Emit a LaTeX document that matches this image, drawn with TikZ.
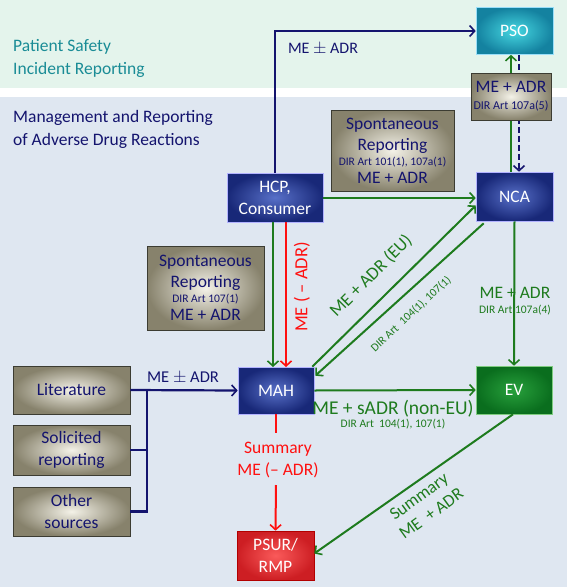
\documentclass[tikz,border=0pt]{standalone}
\usepackage{fontspec}
\setmainfont{Carlito}
\usetikzlibrary{arrows.meta,calc}
\definecolor{navy}{HTML}{14146E}
\definecolor{dgreen}{HTML}{1E7B1E}
\definecolor{redl}{HTML}{FF1010}
\definecolor{tealtxt}{HTML}{1A8C96}
\definecolor{topbg}{HTML}{E4F4EC}
\definecolor{botbg}{HTML}{DFE7F1}
\tikzset{
  base/.style={rectangle, align=center, inner sep=1pt, font=\fontsize{17.5}{22}\selectfont},
  beigebox/.style={base, draw={rgb,255:red,60;green,60;blue,50}, line width=0.8pt, inner color={rgb,255:red,244;green,242;blue,232}, outer color={rgb,255:red,135;green,130;blue,108}, text=navy},
  bluebox/.style={base, draw=blue!30!white, line width=0.6pt, inner color={rgb,255:red,88;green,112;blue,200}, outer color={rgb,255:red,24;green,40;blue,120}, text=white},
  greenbox/.style={base, draw=green!60!black!50, line width=0.6pt, inner color={rgb,255:red,40;green,160;blue,60}, outer color={rgb,255:red,10;green,110;blue,30}, text=white},
  redbox/.style={base, draw=red!70!black, line width=0.6pt, inner color={rgb,255:red,250;green,90;blue,90}, outer color={rgb,255:red,205;green,30;blue,35}, text=white},
  tealbox/.style={base, draw=cyan!40!white, line width=0.6pt, inner color={rgb,255:red,70;green,215;blue,225}, outer color={rgb,255:red,20;green,130;blue,160}, text=white},
  tip/.style={-{Straight Barb[length=5pt,width=11pt,line width=1.6pt]}},
  nline/.style={navy, line width=2.2pt},
  gline/.style={dgreen, line width=2pt},
  rline/.style={redl, line width=2pt},
  lbl/.style={font=\fontsize{17.5}{22}\selectfont, inner sep=0pt},
  small/.style={font=\fontsize{11.5}{13}\selectfont, inner sep=0pt},
  head/.style={font=\fontsize{17.5}{23}\selectfont, align=left, anchor=west, inner sep=0pt},
}
\newcommand{\smalltxt}[1]{{\fontsize{11.5}{13}\selectfont #1}}
\begin{document}
\begin{tikzpicture}[x=1pt,y=-1pt]
\useasboundingbox (0,0) rectangle (567,587);
\fill[topbg] (0,0) rectangle (567,88);
\fill[white] (0,88) rectangle (567,97);
\fill[botbg] (0,97) rectangle (567,587);

\node[head, text=tealtxt] (hd1) at (13,58.5) {Patient Safety\\Incident Reporting};
\node[head, text=navy] (hd2) at (13,129) {Management and Reporting\\of Adverse Drug Reactions};

% main nodes
\node[tealbox, minimum width=77pt, minimum height=47pt] (PSO) at (514.5,31) {PSO};
\node[bluebox, minimum width=77pt, minimum height=49pt] (NCA) at (514.5,196.5) {NCA};
\node[bluebox, minimum width=96pt, minimum height=49pt] (HCP) at (275,197.5) {HCP,\\Consumer};
\node[bluebox, minimum width=76pt, minimum height=47pt] (MAH) at (276,390.5) {MAH};
\node[greenbox, minimum width=76pt, minimum height=48pt] (EV) at (514,390) {EV};
\node[redbox, minimum width=77pt, minimum height=49pt] (PSUR) at (275.5,555.5) {PSUR/\\RMP};
\node[beigebox, minimum width=117pt, minimum height=48pt] (LIT) at (71.5,390) {Literature};
\node[beigebox, minimum width=117pt, minimum height=50pt] (SOL) at (71.5,450) {Solicited\\reporting};
\node[beigebox, minimum width=117pt, minimum height=49pt] (OTH) at (71.5,511.5) {Other\\sources};

% HCP -> PSO
\draw[nline, tip] (HCP.north) |- (PSO.west);
\node[lbl, text=navy, font=\fontsize{16}{19}\selectfont] (l1) at (323,49) {ME $\pm$ ADR};

% PSO <-> NCA
\draw[gline, tip] ([xshift=-3.5pt]NCA.north) -- ([xshift=-3.5pt]PSO.south);
\draw[nline, dashed, dash pattern=on 6pt off 3pt, tip] ([xshift=4.5pt]PSO.south) -- ([xshift=4.5pt]NCA.north);
\node[beigebox, minimum width=80pt, minimum height=47pt, inner sep=0pt] (B1) at (511,96.5) {ME + ADR\\[-5pt]{\fontsize{12}{13}\selectfont DIR Art 107a(5)}};

% HCP -> NCA
\draw[gline, tip] (HCP.east |- 0,198) -- (NCA.west |- 0,198);
\node[beigebox, minimum width=123pt, minimum height=81pt, font=\fontsize{17.5}{21}\selectfont] (B2) at (392.5,150.5) {Spontaneous\\Reporting\\[-6pt]\smalltxt{DIR Art 101(1), 107a(1)}\\[-3pt]ME + ADR};

% HCP -> MAH
\draw[gline, tip] (273,222) -- (273,367);
\draw[rline, tip] (286,222) -- (286,367);
\node[lbl, text=redl, rotate=90, font=\fontsize{18.5}{22}\selectfont] (l2) at (302,287) {ME ( -- ADR)};
\node[beigebox, minimum width=117pt, minimum height=84pt, font=\fontsize{17.5}{21}\selectfont] (B3) at (205.5,288) {Spontaneous\\Reporting\\[-6pt]\smalltxt{DIR Art 107(1)}\\[-3pt]ME + ADR};

% MAH <-> NCA diagonals
\draw[gline, tip] ([xshift=-2pt]MAH.north east) -- ($(NCA.west)+(0,9)$);
\draw[gline, tip] ($(NCA.south west)+(8,2)$) -- ($(MAH.north east)+(1,9)$);
\node[lbl, text=dgreen, rotate=45, font=\fontsize{18}{22}\selectfont] (l3) at (371,276) {ME + ADR (EU)};
\node[small, text=dgreen, rotate=43] (l4) at (411,314) {DIR Art\ \ 104(1), 107(1)};

% NCA -> EV
\draw[gline, tip] (NCA.south) -- (EV.north);
\node[lbl, text=dgreen] (l5) at (515,293) {ME + ADR};
\node[small, text=dgreen] (l6) at (515,310) {DIR Art 107a(4)};

% MAH -> EV
\draw[gline, tip] (MAH.east) -- (EV.west);
\node[lbl, text=dgreen, font=\fontsize{19.5}{22}\selectfont] (l7) at (393,409) {ME + sADR (non-EU)};
\node[small, text=dgreen] (l8) at (393,424) {DIR Art\ \ 104(1), 107(1)};

% sources -> MAH
\coordinate (bus) at (147,390);
\draw[nline, tip] (LIT.east) -- (MAH.west);
\draw[nline] (SOL.east) -| (bus);
\draw[nline] (OTH.east) -| (bus);
\node[lbl, text=navy, font=\fontsize{16.5}{19}\selectfont] (l9) at (183,378) {ME $\pm$ ADR};

% MAH -> PSUR
\node[lbl, text=redl, align=center, font=\fontsize{17.5}{22}\selectfont] (l10) at (278,460) {Summary\\ME (-- ADR)};
\coordinate (r1) at (276,433);
\coordinate (r2) at (276,485);
\draw[rline] (MAH.south) -- (r1);
\draw[rline, tip] (r2) -- (PSUR.north);

% EV -> PSUR
\draw[gline, tip] ([xshift=-1pt]EV.south) -- ($(PSUR.east)+(0,-2)$);
\node[lbl, text=dgreen, rotate=36, align=center, font=\fontsize{17.5}{21}\selectfont] (l11) at (425,505) {Summary\\ME \ + ADR};
\end{tikzpicture}
\end{document}
